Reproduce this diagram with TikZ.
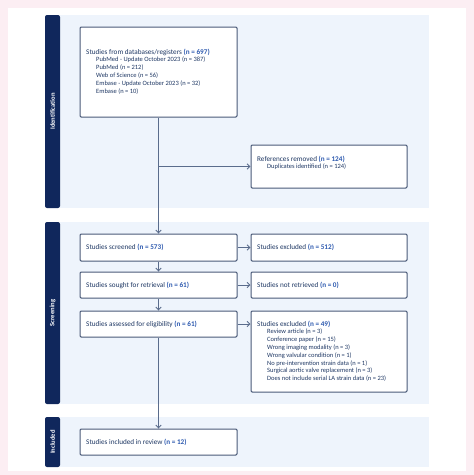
\documentclass[tikz,border=0pt]{standalone}
\usepackage{fontspec}
\setmainfont{Carlito}
\usetikzlibrary{arrows.meta}
\definecolor{pinkbg}{HTML}{FCEEF3}
\definecolor{panel}{HTML}{EEF4FC}
\definecolor{navy}{HTML}{10275C}
\definecolor{txt}{HTML}{1F3864}
\definecolor{nblue}{HTML}{2F5BB0}
\definecolor{boxline}{HTML}{4A5A78}
\definecolor{conn}{HTML}{5A6C8C}
\newcommand{\nn}[1]{\textcolor{nblue}{\bfseries #1}}
\begin{document}
\begin{tikzpicture}[x=1pt,y=-1pt,
  boxst/.style={draw=boxline,line width=1pt,fill=white,rounded corners=1.2pt,inner sep=0pt},
  hd/.style={inner sep=0pt,anchor=west,align=left,text=txt,font=\fontsize{7.2}{8.3}\selectfont},
  sub/.style={inner sep=0pt,anchor=north west,align=left,text=txt,font=\fontsize{6.5}{7.9}\selectfont},
  bandlbl/.style={text=white,rotate=90,font=\bfseries\fontsize{6.6}{8}\selectfont,inner sep=0pt},
  arr/.style={draw=conn,line width=0.9pt,-{Straight Barb[length=2.8pt,width=5.5pt]}}]
\useasboundingbox (0,0) rectangle (474,475);
\fill[pinkbg] (0,0) rectangle (474,475);
\fill[white] (8,8) rectangle (466,471);
% panels
\fill[panel] (60,15) rectangle (429,208);
\fill[panel] (60,222) rectangle (429,404);
\fill[panel] (60,417) rectangle (429,467);
\fill[navy,rounded corners=2pt] (45,15) rectangle (60,208);
\fill[navy,rounded corners=2pt] (45,222) rectangle (60,404);
\fill[navy,rounded corners=2pt] (45,417) rectangle (60,467);
\node[bandlbl] (lid) at (52.5,111.5) {Identification};
\node[bandlbl] (lsc) at (52.5,313) {Screening};
\node[bandlbl] (lin) at (52.5,442) {Included};
% boxes
\node[boxst,minimum width=157pt,minimum height=90pt] (src) at (158.5,72) {};
\node[boxst,minimum width=156pt,minimum height=43pt] (rem) at (329,166.5) {};
\node[boxst,minimum width=157pt,minimum height=27pt] (scr) at (158.5,247.5) {};
\node[boxst,minimum width=156pt,minimum height=27pt] (ex1) at (329,247.5) {};
\node[boxst,minimum width=157pt,minimum height=26pt] (sou) at (158.5,285) {};
\node[boxst,minimum width=156pt,minimum height=26pt] (nre) at (329,285) {};
\node[boxst,minimum width=157pt,minimum height=26pt] (ass) at (158.5,324) {};
\node[boxst,minimum width=156pt,minimum height=81pt] (ex2) at (329,351.5) {};
\node[boxst,minimum width=157pt,minimum height=26pt] (inc) at (158.5,442) {};
% texts
\node[hd] (tsrc) at (86,52.5) {Studies from databases/registers \nn{(n = 697)}};
\node[sub] (tsrcs) at (96,57) {PubMed - Update October 2023 (n = 387)\\PubMed (n = 212)\\Web of Science (n = 56)\\Embase - Update October 2023 (n = 32)\\Embase (n = 10)};
\node[hd] (trem) at (257,159.5) {References removed \nn{(n = 124)}};
\node[sub] (trems) at (267,164) {Duplicates identified (n = 124)};
\node[hd] (tscr) at (86,247.5) {Studies screened \nn{(n = 573)}};
\node[hd] (tex1) at (257,247.5) {Studies excluded \nn{(n = 512)}};
\node[hd] (tsou) at (86,285) {Studies sought for retrieval \nn{(n = 61)}};
\node[hd] (tnre) at (257,285) {Studies not retrieved \nn{(n = 0)}};
\node[hd] (tass) at (86,324) {Studies assessed for eligibility \nn{(n = 61)}};
\node[hd] (tex2) at (257,324) {Studies excluded \nn{(n = 49)}};
\node[sub] (tex2s) at (267,328.5) {Review article (n = 3)\\Conference paper (n = 15)\\Wrong imaging modality (n = 3)\\Wrong valvular condition (n = 1)\\No pre-intervention strain data (n = 1)\\Surgical aortic valve replacement (n = 3)\\Does not include serial LA strain data (n = 23)};
\node[hd] (tinc) at (86,442) {Studies included in review \nn{(n = 12)}};
% connectors
\coordinate (br) at (158.5,166.5);
\draw[arr] (src.south) -- (scr.north);
\draw[arr] (br) -- (rem.west);
\draw[arr] (scr.east) -- (ex1.west);
\draw[arr] (scr.south) -- (sou.north);
\draw[arr] (sou.east) -- (nre.west);
\draw[arr] (sou.south) -- (ass.north);
\draw[arr] (ass.east) -- (ass.east -| ex2.west);
\draw[arr] (ass.south) -- (inc.north);
\end{tikzpicture}
\end{document}
